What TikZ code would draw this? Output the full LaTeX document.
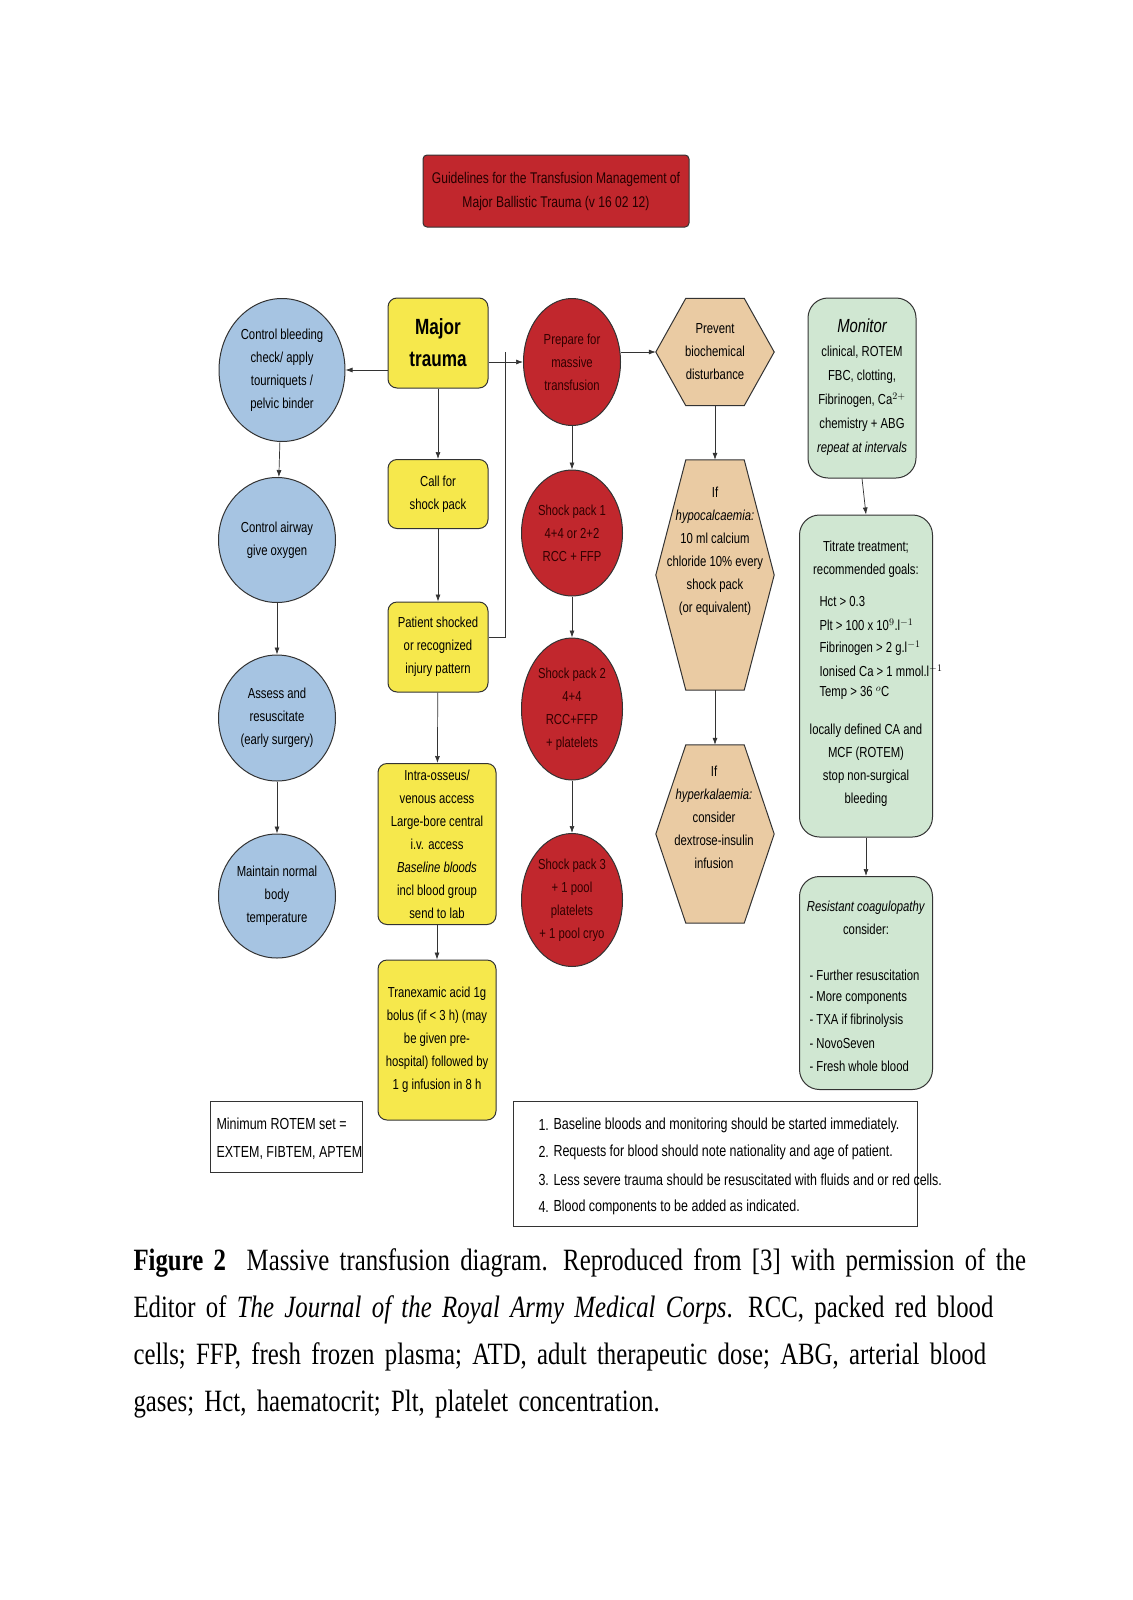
\documentclass[tikz,border=0pt]{standalone}
\usepackage{fontspec}
\setmainfont{Liberation Sans}[FakeStretch=0.78]
\newfontfamily\capfont{Liberation Serif}[FakeStretch=0.8]
\usetikzlibrary{shapes.geometric,arrows.meta}
\definecolor{bblue}{HTML}{A6C4E2}
\definecolor{byel}{HTML}{F6E84C}
\definecolor{bred}{HTML}{C1272D}
\definecolor{btan}{HTML}{EACBA3}
\definecolor{bgreen}{HTML}{D0E7D2}
\definecolor{bline}{HTML}{333333}
\tikzset{
 txt/.style={font=\fontsize{14.5}{23}\selectfont,align=center,text=black},
 bcirc/.style={ellipse,draw=bline,line width=1pt,fill=bblue,txt,inner sep=0pt},
 rcirc/.style={ellipse,draw=bline,line width=1pt,fill=bred,txt,text=black!80!red,inner sep=0pt},
 ybox/.style={rectangle,rounded corners=9pt,draw=bline,line width=1pt,fill=byel,txt,inner sep=0pt},
 gbox/.style={rectangle,rounded corners=20pt,draw=bline,line width=1pt,fill=bgreen,inner sep=0pt},
 plain/.style={rectangle,draw=bline,line width=0.8pt,fill=white,inner sep=0pt},
 hexn/.style={rectangle,inner sep=0pt,txt},
 conn/.style={draw=bline,line width=0.7pt,-{Latex[length=7pt,width=5pt]}},
 lft/.style={font=\fontsize{14.5}{23}\selectfont,anchor=west,text=black},
}
\newcommand{\hexdraw}[1]{\fill[btan,draw=bline,line width=1pt] (#1.west)--([xshift=30pt]#1.north west)--([xshift=-30pt]#1.north east)--(#1.east)--([xshift=-30pt]#1.south east)--([xshift=30pt]#1.south west)--cycle;}
\begin{document}
\begin{tikzpicture}[x=1pt,y=-1pt]
\useasboundingbox[fill=white] (0,0) rectangle (1132,1600);
% title
\node[rectangle,rounded corners=4pt,draw=bline,line width=1pt,fill=bred,minimum width=266pt,minimum height=72pt,txt,font=\fontsize{15.5}{24}\selectfont,text=black!85!red] (title) at (556,191) {Guidelines for the Transfusion Management of\\Major Ballistic Trauma (v 16 02 12)};
% blue
\node[bcirc,minimum width=126pt,minimum height=143pt] (cb) at (282,370) {Control bleeding\\check/ apply\\tourniquets /\\pelvic binder};
\node[bcirc,minimum width=117pt,minimum height=125pt] (ca) at (277,540) {Control airway\\give oxygen};
\node[bcirc,minimum width=117pt,minimum height=126pt] (as) at (277,718) {Assess and\\resuscitate\\(early surgery)};
\node[bcirc,minimum width=117pt,minimum height=124pt] (mn) at (277,896) {Maintain normal\\body\\temperature};
% yellow
\node[ybox,minimum width=100pt,minimum height=90pt,font=\fontsize{22}{32}\selectfont\bfseries] (mt) at (438,343) {Major\\trauma};
\node[ybox,minimum width=100pt,minimum height=69pt] (cs) at (438,494) {Call for\\shock pack};
\node[ybox,minimum width=100pt,minimum height=90pt] (ps) at (438,647) {Patient shocked\\or recognized\\injury pattern};
\node[ybox,minimum width=118pt,minimum height=161pt] (io) at (437,844) {Intra-osseus/\\venous access\\Large-bore central\\i.v. access\\\textit{Baseline bloods}\\incl blood group\\send to lab};
\node[ybox,minimum width=118pt,minimum height=160pt] (tx) at (437,1040) {Tranexamic acid 1g\\bolus (if {<} 3 h) (may\\be given pre-\\hospital) followed by\\1 g infusion in 8 h};
% red
\node[rcirc,minimum width=97pt,minimum height=127pt] (pm) at (572,362) {Prepare for\\massive\\transfusion};
\node[rcirc,minimum width=101pt,minimum height=126pt] (s1) at (572,533) {Shock pack 1\\4+4 or 2+2\\RCC + FFP};
\node[rcirc,minimum width=101pt,minimum height=142pt] (s2) at (572,709) {Shock pack 2\\4+4\\RCC+FFP\\+ platelets};
\node[rcirc,minimum width=101pt,minimum height=133pt] (s3) at (572,900) {Shock pack 3\\+ 1 pool\\platelets\\+ 1 pool cryo};
% hexagons
\node[hexn,minimum width=118pt,minimum height=107pt] (h1) at (715,352) {};
\hexdraw{h1}
\node[txt] at (h1) {Prevent\\biochemical\\disturbance};
\node[hexn,minimum width=118pt,minimum height=230pt] (h2) at (715,575) {};
\hexdraw{h2}
\node[txt] at (715,551) {If\\\textit{hypocalcaemia:}\\10 ml calcium\\chloride 10\% every\\shock pack\\(or equivalent)};
\node[hexn,minimum width=118pt,minimum height=178pt] (h3) at (715,834) {};
\hexdraw{h3}
\node[txt] at (714,817) {If\\\textit{hyperkalaemia:}\\consider\\dextrose-insulin\\infusion};
% green
\node[gbox,minimum width=108pt,minimum height=180pt] (mo) at (862,388) {};
\node[txt,font=\fontsize{14.5}{24}\selectfont] at (862,387) {{\fontsize{19}{24}\selectfont\itshape Monitor}\\clinical, ROTEM\\FBC, clotting,\\Fibrinogen, Ca$^{2+}$\\chemistry + ABG\\\textit{repeat at intervals}};
\node[gbox,minimum width=133pt,minimum height=322pt] (ti) at (866,676) {};
\node[txt] at (866,559) {Titrate treatment;\\recommended goals:};
\node[lft] at (816,602) {Hct {>} 0.3};
\node[lft] at (816,625) {Plt {>} 100 x 10$^{9}$.l$^{-1}$};
\node[lft] at (816,648) {Fibrinogen {>} 2 g.l$^{-1}$};
\node[lft] at (816,671) {Ionised Ca {>} 1 mmol.l$^{-1}$};
\node[lft] at (816,693) {Temp {>} 36 $^{o}$C};
\node[txt] at (866,765) {locally defined CA and\\MCF (ROTEM)\\stop non-surgical\\bleeding};
\node[gbox,minimum width=133pt,minimum height=213pt] (rc) at (866,983) {};
\node[txt] at (866,918) {\textit{Resistant coagulopathy}\\consider:};
\node[lft] at (806,975) {- Further resuscitation};
\node[lft] at (806,998) {- More components};
\node[lft] at (806,1021) {- TXA if fibrinolysis};
\node[lft] at (806,1043) {- NovoSeven};
\node[lft] at (806,1066) {- Fresh whole blood};
% notes
\node[plain,minimum width=152pt,minimum height=71pt] (rot) at (286,1137) {};
\node[lft,font=\fontsize{16}{28}\selectfont,align=left] at (213,1139) {Minimum ROTEM set =\\EXTEM, FIBTEM, APTEM};
\node[plain,minimum width=404pt,minimum height=125pt] (nt) at (715,1164) {};
\foreach \n/\t/\yy in {1/Baseline bloods and monitoring should be started immediately./1125,2/Requests for blood should note nationality and age of patient./1152,3/Less severe trauma should be resuscitated with fluids and or red cells./1180,4/Blood components to be added as indicated./1207}{
 \node[lft,font=\fontsize{16}{20}\selectfont] at (535,\yy) {\n.};
 \node[lft,font=\fontsize{16}{20}\selectfont] at (550,\yy) {\t};
}
% connectors
\draw[conn] (mt.west |- cb.east) -- (cb.east);
\draw[conn] (mt.east |- pm.west) -- (pm.west);
\coordinate (jn) at (505,352);
\draw[draw=bline,line width=0.7pt] (ps.east |- 0,637) -- (jn |- 0,637) -- (jn);
\draw[conn] (pm.east |- h1.west) -- (h1.west);
\draw[conn] (mt) -- (cs);
\draw[conn] (cs) -- (ps);
\draw[conn] (ps) -- (io);
\draw[conn] (io) -- (tx);
\draw[conn] (cb) -- (ca);
\draw[conn] (ca) -- (as);
\draw[conn] (as) -- (mn);
\draw[conn] (pm) -- (s1);
\draw[conn] (s1) -- (s2);
\draw[conn] (s2) -- (s3);
\draw[conn] (h1.south) -- (h2.north);
\draw[conn] (h2.south) -- (h3.north);
\draw[conn] (mo.south) -- (ti.north);
\draw[conn] (ti.south) -- (rc.north);
% caption
\node[anchor=west,font=\capfont\fontsize{31}{47}\selectfont,align=left,text width=900pt] (cap) at (130,1333) {\textbf{Figure 2}\ \ Massive transfusion diagram. Reproduced from [3] with permission of the Editor of \textit{The Journal of the Royal Army Medical Corps}. RCC, packed red blood cells; FFP, fresh frozen plasma; ATD, adult therapeutic dose; ABG, arterial blood gases; Hct, haematocrit; Plt, platelet concentration.};
\end{tikzpicture}
\end{document}
